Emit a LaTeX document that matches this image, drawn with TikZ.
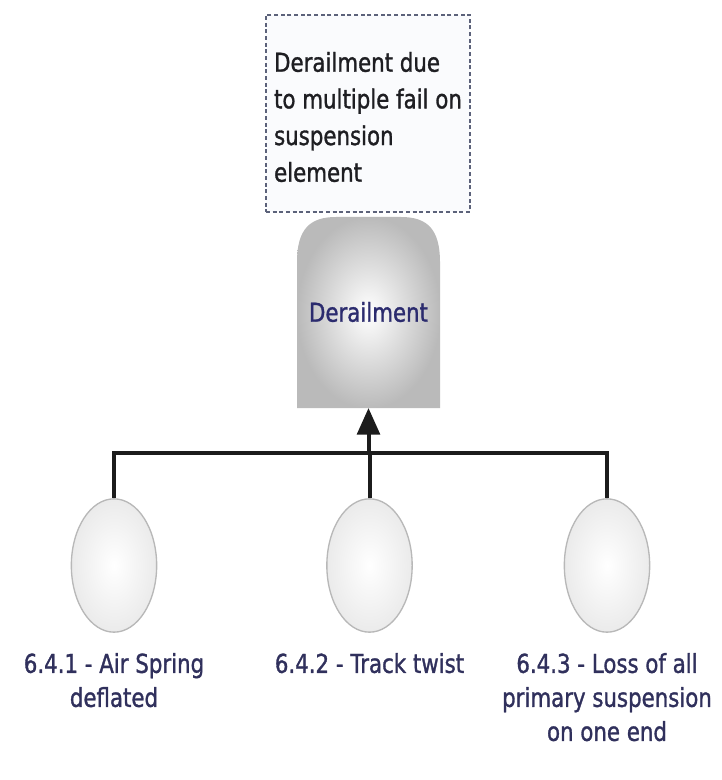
\documentclass[tikz,border=0pt]{standalone}
\usepackage{fontspec}
\newfontfamily\treefont{DejaVu Sans}[FakeStretch=0.82, FakeBold=1.2]
\usepackage{tikz}
\usepackage{color}
\usetikzlibrary{
	positioning				% Allows below=of style positioning
	, arrows.meta			% Allows the triangle arrow tip
	, shapes.geometric		% Allows ellipse nodes
}

\definecolor{notetext}{RGB}{30,30,34}
\definecolor{noteline}{RGB}{92,98,122}
\definecolor{notefill}{RGB}{250,251,253}
\definecolor{gatetext}{RGB}{43,43,110}
\definecolor{eventtext}{RGB}{48,48,92}
\definecolor{linkline}{RGB}{28,28,28}

\begin{document}
\begin{tikzpicture}[
		x=0.75pt, y=-0.75pt
		, note/.style={draw=noteline, densely dashed, line width=1.3pt, fill=notefill,
			text=notetext, align=left, minimum width=153pt, minimum height=148pt,
			font=\treefont\fontsize{19.5}{27.5}\selectfont}
		, gate/.style={inner color=white, outer color=black!27}
		, gatelabel/.style={text=gatetext, font=\treefont\fontsize{19.5}{24}\selectfont}
		, event/.style={ellipse, draw=black!28, line width=1pt, inner color=white,
			outer color=black!8, minimum width=64pt, minimum height=100pt}
		, eventlabel/.style={text=eventtext, align=center, inner sep=0pt,
			font=\treefont\fontsize{19.5}{25.5}\selectfont}
		, link/.style={draw=linkline, line width=3pt}
	]

	% Fix the margins of the page
	\useasboundingbox (0,0) rectangle (721,780);

	% Draw the note above the top event
	\node [note] (note) at (368,113.5) {};
	\node [note, draw=none, fill=none, minimum height=0pt] (notetext) at (368,117)
		{Derailment due\\to multiple fail on\\suspension\\element};

	% Draw the gate of the top event
	\shade [gate] (297,408) -- (297,262) .. controls (297,229) and (310,217) .. (336,217)
		-- (401,217) .. controls (427,217) and (440,229) .. (440,262) -- (440,408) -- cycle;
	\node [gatelabel] (derailment) at (368.5,312) {Derailment};
	\coordinate (gatebottom) at (368.5,408);
	\coordinate (junction) at (368.5,453);

	% Loop through each of our basic events
	\foreach [count=\i] \pos/\evtext in {
		114/{6.4.1 - Air Spring\\deflated},
		369.5/{6.4.2 - Track twist},
		607/{6.4.3 - Loss of all\\primary suspension\\on one end}} {

		% Draw the event and its label below it
		\node [event] (event\i) at (\pos,565.5) {};
		\node [eventlabel, below=15pt of event\i] (label\i) {\evtext};

		% Draw a line from our event to the junction
		\path [link] (event\i.north) |- (junction);
	};

	% Draw the arrow from the junction into the gate
	\draw [link, -{Triangle[length=20pt, width=17pt]}] (junction) -- (gatebottom);
\end{tikzpicture}
\end{document}
